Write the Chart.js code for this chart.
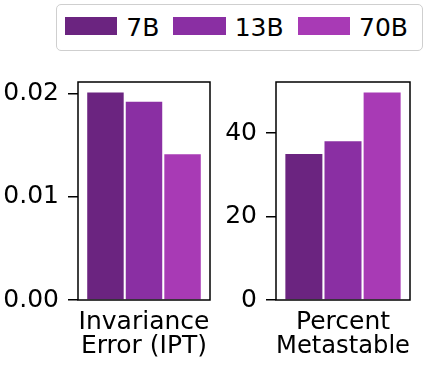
<!DOCTYPE html>
<html><head><meta charset="utf-8">
<script src="https://cdn.jsdelivr.net/npm/chart.js@4/dist/chart.umd.min.js"></script>
<style>
body{margin:0;background:#fff;width:426px;height:366px;overflow:hidden;position:relative;font-family:'DejaVu Sans',sans-serif;}
canvas{position:absolute;top:0;}
#c1{left:0}
#c2{left:213px}
#legend{position:absolute;left:56px;top:4px;width:367px;height:47px;border:1.5px solid #cfcfcf;border-radius:5px;box-sizing:border-box;display:flex;align-items:center;padding-left:8px;padding-bottom:3px;}
.patch{width:53px;height:18px;margin-right:9px;box-sizing:border-box;}
.lab{font-size:25px;line-height:25px;color:#000;margin-right:14px;position:relative;top:1px;}
</style>
</head><body>
<div id="legend"></div>
<canvas id="c1" width="213" height="366"></canvas>
<canvas id="c2" width="213" height="366"></canvas>
<script>
const models = ['7B', '13B', '70B'];
const colors = ['#6b2480', '#8a2fa3', '#a83ab5'];
const invarianceError = [0.0201, 0.0192, 0.0141];
const percentMetastable = [35.0, 38.1, 49.8];
const titleLeft = ['Invariance', 'Error (IPT)'];
const titleRight = ['Percent', 'Metastable'];
const ticksLeft = [0, 0.01, 0.02];
const ticksRight = [0, 20, 40];

// legend
const leg = document.getElementById('legend');
models.forEach((m, i) => {
  const p = document.createElement('div');
  p.className = 'patch';
  p.style.background = colors[i];
  leg.appendChild(p);
  const t = document.createElement('span');
  t.className = 'lab';
  t.textContent = m;
  leg.appendChild(t);
});

const framePlugin = {
  id: 'frame',
  afterDraw(chart) {
    const a = chart.chartArea, ctx = chart.ctx;
    ctx.save();
    ctx.strokeStyle = '#000';
    ctx.lineWidth = 1.5;
    ctx.strokeRect(a.left, a.top, a.right - a.left, a.bottom - a.top);
    ctx.restore();
  }
};

function makeChart(id, values, title, yTicks, yMax, fmt, axisW, padRight) {
  return new Chart(document.getElementById(id), {
    type: 'bar',
    data: {
      labels: [''],
      datasets: models.map((m, i) => ({
        label: m,
        data: [values[i]],
        backgroundColor: colors[i],
        borderWidth: 0,
        barPercentage: 0.946,
        categoryPercentage: 0.876
      }))
    },
    options: {
      responsive: false,
      animation: false,
      devicePixelRatio: 1,
      layout: { padding: { top: 82, right: padRight, left: 0, bottom: 0 } },
      plugins: { legend: { display: false }, tooltip: { enabled: false } },
      scales: {
        x: {
          grid: { display: false },
          border: { display: false },
          ticks: { display: false },
          title: {
            display: true,
            text: title,
            color: '#000',
            font: { family: 'DejaVu Sans', size: 25, lineHeight: 0.98 },
            padding: { top: 0, bottom: 7 }
          },
          afterFit(s) { s.height = 66; }
        },
        y: {
          min: 0,
          max: yMax,
          afterBuildTicks(s) { s.ticks = yTicks.map(v => ({ value: v })); },
          ticks: {
            color: '#000',
            font: { family: 'DejaVu Sans', size: 25 },
            padding: 9,
            callback: fmt
          },
          grid: { display: true, drawOnChartArea: false, drawTicks: true, tickLength: 10, color: '#000', lineWidth: 1.5 },
          border: { display: false },
          afterFit(s) { s.width = axisW; }
        }
      }
    },
    plugins: [framePlugin]
  });
}

makeChart('c1', invarianceError, titleLeft, ticksLeft, Math.max(...invarianceError) * 1.05, v => Number(v).toFixed(2), 78, 3);
makeChart('c2', percentMetastable, titleRight, ticksRight, Math.max(...percentMetastable) * 1.05, v => String(v), 63, 16);
</script>
</body></html>
